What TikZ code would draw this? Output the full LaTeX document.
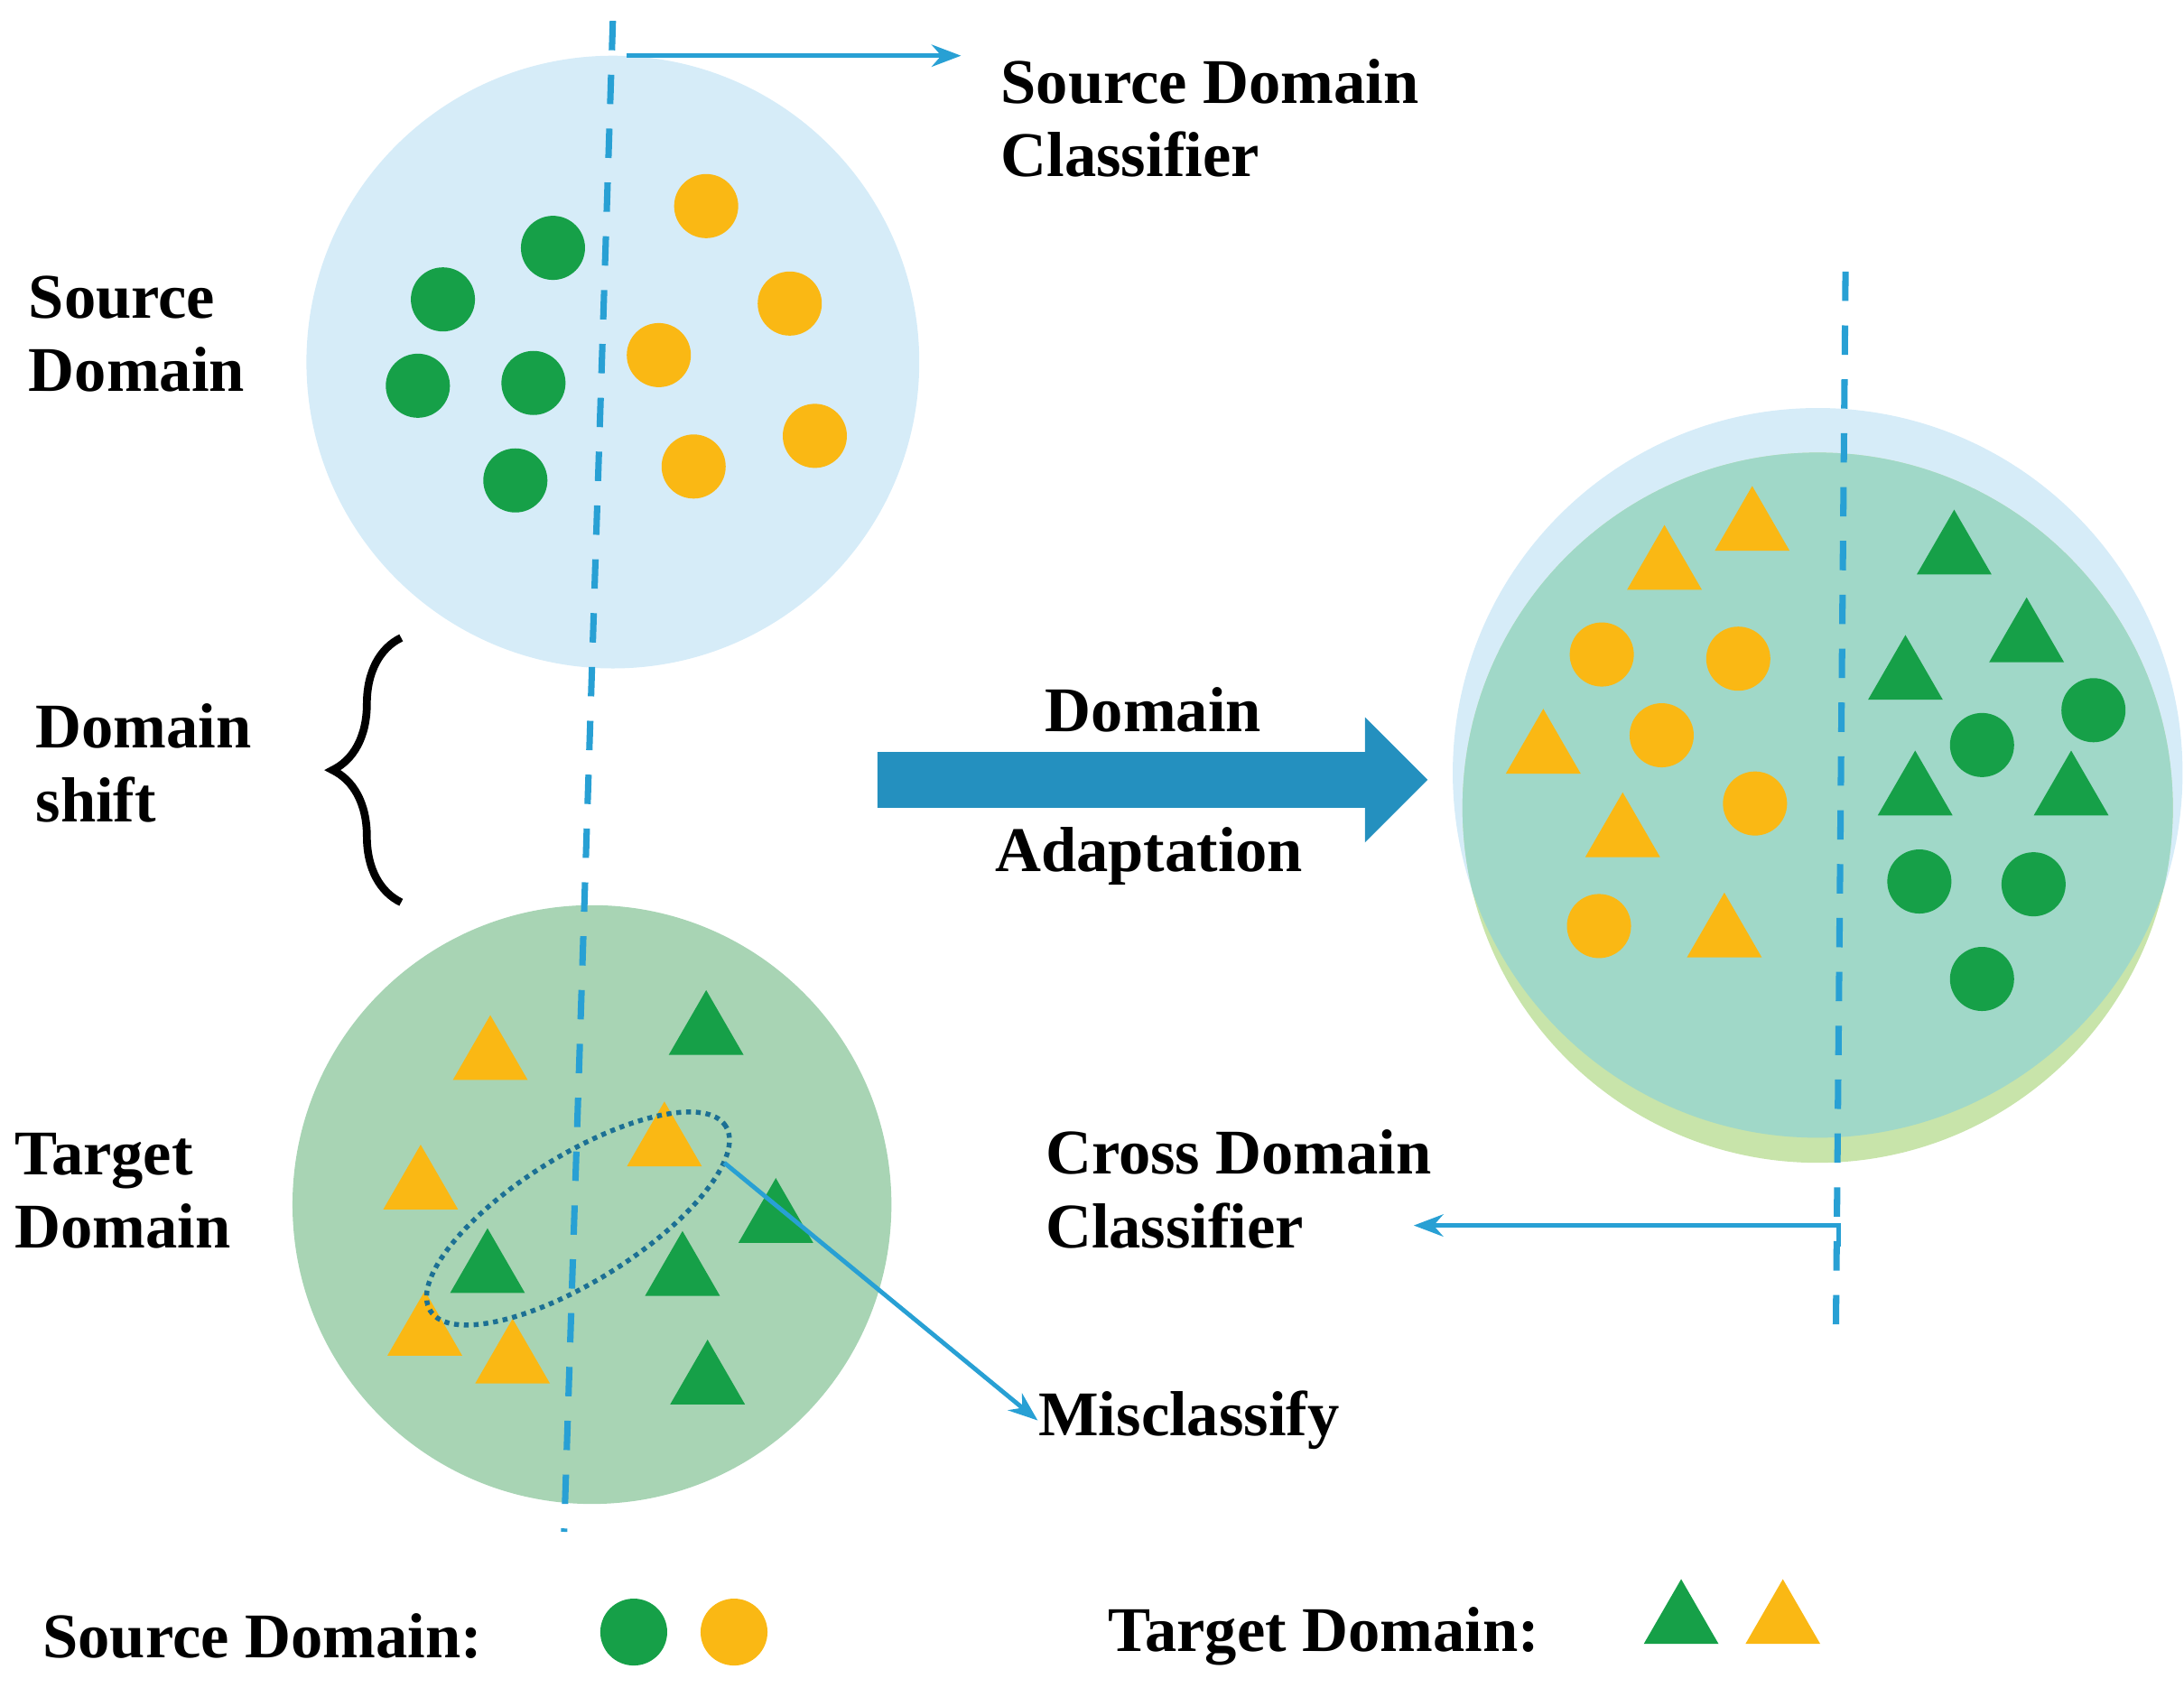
\documentclass[tikz,border=0pt]{standalone}
\usepackage{fontspec}
\setmainfont{Liberation Serif}
\usetikzlibrary{shapes.geometric,decorations.pathreplacing,arrows.meta}
\definecolor{skyfill}{RGB}{214,236,248}
\definecolor{greenfill}{RGB}{168,212,180}
\definecolor{tealfill}{RGB}{160,216,200}
\definecolor{limefill}{RGB}{200,228,170}
\definecolor{ptgreen}{RGB}{22,160,72}
\definecolor{ptorange}{RGB}{250,184,20}
\definecolor{lineblue}{RGB}{40,160,212}
\tikzset{
    lbl/.style={font=\fontsize{13}{15}\selectfont\bfseries, align=left, anchor=west, inner sep=0pt},
    dot/.style={circle, fill=#1, minimum size=0.46cm, inner sep=0pt},
    tri/.style={regular polygon, regular polygon sides=3, fill=#1, minimum size=0.62cm, inner sep=0pt},
    divider/.style={lineblue, dashed, line width=1.3pt, dash pattern=on 6pt off 5pt},
    pointer/.style={lineblue, line width=0.9pt, -{Stealth[length=6pt]}}
}
\begin{document}
\begin{tikzpicture}[x=0.01cm, y=-0.01cm]
    \useasboundingbox (0,0) rectangle (1568,1218);
    % domains
    \fill[skyfill] (440,260) circle (220);
    \fill[greenfill] (425,865) circle (215);
    \fill[skyfill] (1305,555) circle (262);
    \fill[limefill] (1305,580) circle (255);
    \begin{scope}
        \clip (1305,555) circle (262);
        \fill[tealfill] (1305,580) circle (255);
    \end{scope}
    % classifiers
    \coordinate (l1) at (440,15);
    \coordinate (l2) at (405,1100);
    \draw[divider] (l1) -- (l2);
    \coordinate (r1) at (1325,195);
    \coordinate (r2) at (1318,965);
    \draw[divider] (r1) -- (r2);
    % source points
    \foreach \p [count=\i] in {(397,178),(318,215),(300,277),(383,275),(370,345)}
        \node[dot=ptgreen] (sg\i) at \p {};
    \foreach \p [count=\i] in {(507,148),(567,218),(473,255),(585,313),(498,335)}
        \node[dot=ptorange] (so\i) at \p {};
    % target points
    \foreach \p [count=\i] in {(352,760),(302,853),(477,822),(305,958),(368,978)}
        \node[tri=ptorange] (to\i) at \p {};
    \foreach \p [count=\i] in {(507,742),(557,877),(350,913),(490,915),(508,993)}
        \node[tri=ptgreen] (tg\i) at \p {};
    % adapted points
    \foreach \p [count=\i] in {(1258,380),(1195,408),(1108,540),(1165,600),(1238,672)}
        \node[tri=ptorange] (ao\i) at \p {};
    \foreach \p [count=\i] in {(1150,470),(1248,473),(1193,528),(1260,577),(1148,665)}
        \node[dot=ptorange] (ac\i) at \p {};
    \foreach \p [count=\i] in {(1403,397),(1455,460),(1368,487),(1375,570),(1487,570)}
        \node[tri=ptgreen] (ag\i) at \p {};
    \foreach \p [count=\i] in {(1503,510),(1423,535),(1378,633),(1460,635),(1423,703)}
        \node[dot=ptgreen] (ad\i) at \p {};
    % misclassified
    \node[draw=lineblue!70!black, densely dotted, line width=1pt, ellipse, rotate=32,
        minimum width=2.5cm, minimum height=0.9cm] (mis) at (415,875) {};
    % labels
    \node[lbl] (srcdom) at (20,240) {Source\\Domain};
    \node[lbl] (shift) at (25,548) {Domain\\shift};
    \node[lbl] (tgtdom) at (10,855) {Target\\Domain};
    \node[lbl] (srccls) at (718,85) {Source Domain\\Classifier};
    \node[lbl] (crscls) at (750,854) {Cross Domain\\Classifier};
    \node[lbl] (miscls) at (745,1020) {Misclassify};
    \node[lbl, anchor=center] (da1) at (828,510) {Domain};
    \node[lbl, anchor=center] (da2) at (825,615) {Adaptation};
    % brace
    \draw[decorate, decoration={brace, amplitude=14pt}, line width=1.6pt]
        (288,648) -- (288,458);
    % arrows
    \coordinate (sa) at (450,40);
    \draw[pointer] (sa) -- (690,40);
    \coordinate (ca) at (1320,895);
    \draw[pointer] (ca) |- (crscls.east |- 0,880) ++(0,0) -- (1015,880);
    \draw[pointer] (520,835) -- (miscls.west);
    \fill[lineblue!90!black] (630,540) -- (980,540) -- (980,515) -- (1025,560)
        -- (980,605) -- (980,580) -- (630,580) -- cycle;
    % legend
    \node[lbl] (legs) at (30,1175) {Source Domain:};
    \node[dot=ptgreen, minimum size=0.48cm] (lg1) at (455,1172) {};
    \node[dot=ptorange, minimum size=0.48cm] (lg2) at (527,1172) {};
    \node[lbl] (legt) at (795,1175) {Target Domain:};
    \node[tri=ptgreen] (lt1) at (1207,1165) {};
    \node[tri=ptorange] (lt2) at (1280,1165) {};
\end{tikzpicture}
\end{document}
